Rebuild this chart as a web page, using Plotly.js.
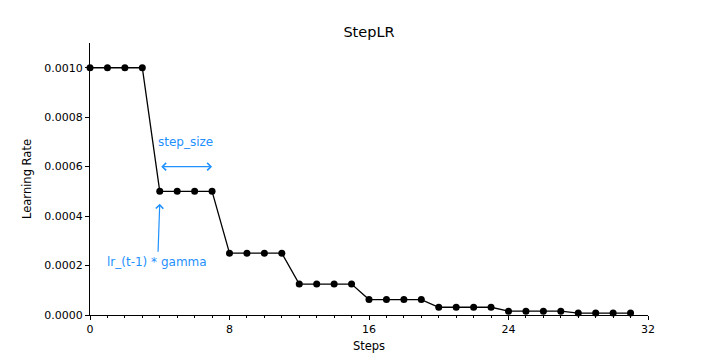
<!DOCTYPE html>
<html>
<head>
<meta charset="utf-8">
<script src="https://cdn.plot.ly/plotly-3.0.1.min.js"></script>
<style>html,body{margin:0;padding:0;background:#fff;}#chart{width:720px;height:360px;}</style>
</head>
<body>
<div id="chart"></div>
<script>
const steps = [0,1,2,3,4,5,6,7,8,9,10,11,12,13,14,15,16,17,18,19,20,21,22,23,24,25,26,27,28,29,30,31];
const learningRates = [
  0.001,0.001,0.001,0.001,
  0.0005,0.0005,0.0005,0.0005,
  0.00025,0.00025,0.00025,0.00025,
  0.000125,0.000125,0.000125,0.000125,
  0.0000625,0.0000625,0.0000625,0.0000625,
  0.00003125,0.00003125,0.00003125,0.00003125,
  0.000015625,0.000015625,0.000015625,0.000015625,
  0.0000078125,0.0000078125,0.0000078125,0.0000078125
];
const xTicks = [0,8,16,24,32];
const yTicks = [0,0.0002,0.0004,0.0006,0.0008,0.001];
const yTickLabels = ["0.0000","0.0002","0.0004","0.0006","0.0008","0.0010"];
const stepSizeArrow = {x0: 4, x1: 7, y: 0.0006, labelX: 5.5, labelY: 0.0007};
const gammaArrow = {xTail: 3.9, yTail: 0.00025, xHead: 4, yHead: 0.00045, labelX: 3.85, labelY: 0.000214};

const blue = "#1e90ff";
const trace = {
  x: steps, y: learningRates, type: "scatter", mode: "lines+markers",
  line: {color: "black", width: 1.3},
  marker: {color: "black", size: 7},
  cliponaxis: false, hoverinfo: "skip"
};
const layout = {
  width: 720, height: 360,
  margin: {l: 90, r: 72, t: 43, b: 45},
  paper_bgcolor: "white", plot_bgcolor: "white",
  font: {family: "DejaVu Sans", size: 11, color: "black"},
  showlegend: false,
  title: {text: "StepLR", font: {size: 14.5, color: "black"}, x: 0.5, xref: "paper", y: 1, yref: "paper", yanchor: "bottom", pad: {b: 6}},
  xaxis: {
    range: [0, 32], tickvals: xTicks, ticktext: xTicks.map(String),
    showgrid: false, zeroline: false, showline: true, linecolor: "black", linewidth: 1,
    ticks: "outside", ticklen: 4, tickcolor: "black",
    minor: {dtick: 1, tick0: 0, ticks: "outside", ticklen: 2, tickcolor: "black", showgrid: false},
    title: {text: "Steps", font: {size: 11.5}, standoff: 6},
    fixedrange: true
  },
  yaxis: {
    range: [0, 0.0011], tickvals: yTicks, ticktext: yTickLabels,
    showgrid: false, zeroline: false, showline: true, linecolor: "black", linewidth: 1,
    ticks: "outside", ticklen: 4, tickcolor: "black",
    title: {text: "Learning Rate", font: {size: 11.5}, standoff: 10},
    fixedrange: true
  },
  annotations: [
    {x: stepSizeArrow.labelX, y: stepSizeArrow.labelY, xref: "x", yref: "y", text: "step_size", showarrow: false, font: {color: blue, size: 12}},
    {x: stepSizeArrow.x1, y: stepSizeArrow.y, ax: stepSizeArrow.x0, ay: stepSizeArrow.y, xref: "x", yref: "y", axref: "x", ayref: "y",
     text: "", showarrow: true, arrowhead: 4, startarrowhead: 4, arrowside: "end+start", arrowsize: 1.2, startarrowsize: 1.2, arrowwidth: 1.2, arrowcolor: blue},
    {x: gammaArrow.xHead, y: gammaArrow.yHead, ax: gammaArrow.xTail, ay: gammaArrow.yTail, xref: "x", yref: "y", axref: "x", ayref: "y",
     text: "", showarrow: true, arrowhead: 4, arrowsize: 1.2, arrowwidth: 1.2, arrowcolor: blue},
    {x: gammaArrow.labelX, y: gammaArrow.labelY, xref: "x", yref: "y", text: "lr_(t-1) * gamma", showarrow: false, font: {color: blue, size: 12}}
  ]
};
Plotly.newPlot("chart", [trace], layout, {staticPlot: true, displayModeBar: false});
</script>
</body>
</html>
